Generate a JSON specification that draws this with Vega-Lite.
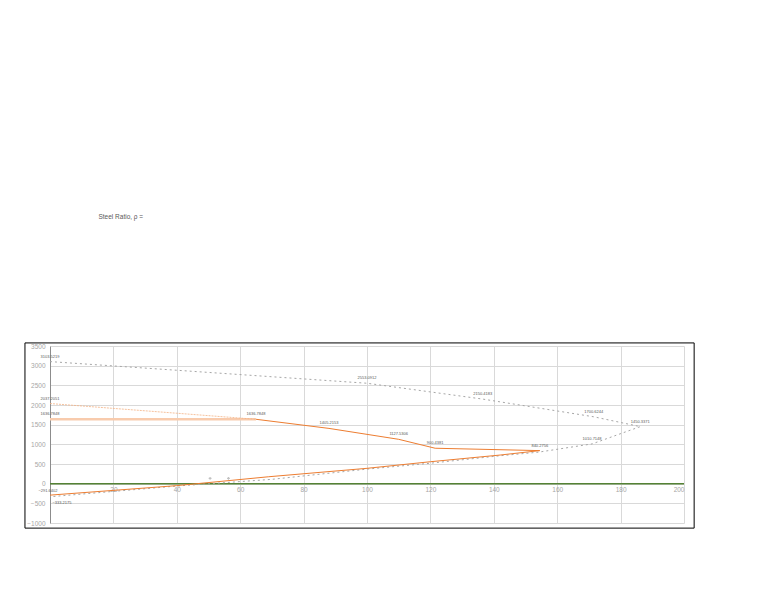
{
  "$schema": "https://vega.github.io/schema/vega-lite/v6.json",
  "autosize": "none",
  "width": 634,
  "height": 177,
  "padding": {"left": 50, "top": 346, "right": 84, "bottom": 71},
  "background": "white",
  "title": {"text": "Steel Ratio, ρ =", "orient": "top", "anchor": "start", "offset": 122, "dx": 74, "fontSize": 6.5, "font": "Liberation Sans", "fontWeight": "normal", "color": "#595959"},
  "config": {
    "view": {"stroke": null},
    "axis": {"gridColor": "#d9d9d9", "gridWidth": 1, "labelColor": "#a6a6a6", "labelFont": "Liberation Sans", "labelFontSize": 6.5, "ticks": false, "title": null}
  },
  "datasets": {
    "gray": [
      {"i": 1, "x": 0, "y": 3103.5219, "lab": true},
      {"i": 2, "x": 100, "y": 2553.0912, "lab": true},
      {"i": 3, "x": 136.5, "y": 2150.4183, "lab": true},
      {"i": 4, "x": 171.5, "y": 1700.6244, "lab": true},
      {"i": 5, "x": 186.2, "y": 1450.3371, "lab": true},
      {"i": 6, "x": 171, "y": 1010.7148, "lab": true},
      {"i": 7, "x": 154, "y": 800, "lab": false},
      {"i": 8, "x": 142, "y": 710, "lab": false},
      {"i": 9, "x": 120, "y": 520, "lab": false},
      {"i": 10, "x": 100, "y": 370, "lab": false},
      {"i": 11, "x": 70, "y": 110, "lab": false},
      {"i": 12, "x": 40, "y": -60, "lab": false},
      {"i": 13, "x": 0, "y": -333.2175, "lab": false}
    ],
    "grayEnd": [
      {"x": 0, "y": -333.2175}
    ],
    "orange": [
      {"i": 1, "x": 65, "y": 1636.7848, "lab": true},
      {"i": 2, "x": 88, "y": 1405.2153, "lab": true},
      {"i": 3, "x": 110, "y": 1127.5306, "lab": true},
      {"i": 4, "x": 121.5, "y": 900.4381, "lab": true},
      {"i": 5, "x": 154.5, "y": 840.2756, "lab": true},
      {"i": 6, "x": 142, "y": 728, "lab": false},
      {"i": 7, "x": 120, "y": 558, "lab": false},
      {"i": 8, "x": 100, "y": 390, "lab": false},
      {"i": 9, "x": 69, "y": 176, "lab": false},
      {"i": 10, "x": 40, "y": -50, "lab": false},
      {"i": 11, "x": 0, "y": -291.6402, "lab": false}
    ],
    "orangeEnd": [
      {"x": 0, "y": -291.6402}
    ],
    "flat": [
      {"i": 1, "x": 0, "y": 1636.7848, "lab": true},
      {"i": 2, "x": 65, "y": 1636.7848, "lab": false}
    ],
    "slope": [
      {"i": 1, "x": 0, "y": 2037.2051, "lab": true},
      {"i": 2, "x": 65, "y": 1636.7848, "lab": false}
    ],
    "zero": [
      {"x": 0, "y": 0},
      {"x": 200, "y": 0}
    ],
    "marks": [
      {"x": 50.5, "y": 135},
      {"x": 56.3, "y": 135}
    ],
    "frame": [
      {"x": -7.9, "x2": 203.2, "y": 3578, "y2": -1130}
    ]
  },
  "encoding": {
    "x": {"field": "x", "type": "quantitative", "scale": {"domain": [0, 200], "nice": false, "zero": false},
      "axis": {"values": [20, 40, 60, 80, 100, 120, 140, 160, 180, 200], "gridValues": [0, 20, 40, 60, 80, 100, 120, 140, 160, 180, 200], "domain": false, "offset": -39.3, "labelPadding": 3, "grid": true, "format": "d"}},
    "y": {"field": "y", "type": "quantitative", "scale": {"domain": [-1000, 3500], "nice": false},
      "axis": {"values": [-1000, -500, 0, 500, 1000, 1500, 2000, 2500, 3000, 3500], "format": "d", "domain": true, "domainColor": "#8c8c8c", "labelPadding": 5}}
  },
  "layer": [
    {"data": {"name": "zero"}, "mark": {"type": "line", "color": "#548235", "strokeWidth": 1.5}, "encoding": {}},
    {"data": {"name": "gray"}, "mark": {"type": "line", "color": "#a6a6a6", "strokeWidth": 1, "strokeDash": [2, 3]}, "encoding": {"order": {"field": "i"}}},
    {"data": {"name": "flat"}, "mark": {"type": "line", "color": "#f8cbad", "strokeWidth": 2.5}, "encoding": {"order": {"field": "i"}}},
    {"data": {"name": "slope"}, "mark": {"type": "line", "color": "#f4b183", "strokeWidth": 0.8, "strokeDash": [2, 1]}, "encoding": {"order": {"field": "i"}}},
    {"data": {"name": "orange"}, "mark": {"type": "line", "color": "#ed7d31", "strokeWidth": 1}, "encoding": {"order": {"field": "i"}}},
    {"data": {"name": "marks"}, "mark": {"type": "point", "shape": "cross", "color": "#a6a6a6", "size": 8, "filled": true}, "encoding": {}},
    {"data": {"name": "gray"}, "transform": [{"filter": "datum.lab"}], "mark": {"type": "text", "fontSize": 4, "font": "Liberation Sans", "color": "#595959", "dy": -5}, "encoding": {"text": {"field": "y", "type": "quantitative", "format": ".4f"}}},
    {"data": {"name": "grayEnd"}, "mark": {"type": "text", "fontSize": 4, "font": "Liberation Sans", "color": "#595959", "dy": 6, "dx": 12}, "encoding": {"text": {"field": "y", "type": "quantitative", "format": ".4f"}}},
    {"data": {"name": "orange"}, "transform": [{"filter": "datum.lab"}], "mark": {"type": "text", "fontSize": 4, "font": "Liberation Sans", "color": "#595959", "dy": -5}, "encoding": {"text": {"field": "y", "type": "quantitative", "format": ".4f"}}},
    {"data": {"name": "orangeEnd"}, "mark": {"type": "text", "fontSize": 4, "font": "Liberation Sans", "color": "#595959", "dy": -4, "dx": -2}, "encoding": {"text": {"field": "y", "type": "quantitative", "format": ".4f"}}},
    {"data": {"name": "flat"}, "transform": [{"filter": "datum.lab"}], "mark": {"type": "text", "fontSize": 4, "font": "Liberation Sans", "color": "#595959", "dy": -5}, "encoding": {"text": {"field": "y", "type": "quantitative", "format": ".4f"}}},
    {"data": {"name": "slope"}, "transform": [{"filter": "datum.lab"}], "mark": {"type": "text", "fontSize": 4, "font": "Liberation Sans", "color": "#595959", "dy": -5}, "encoding": {"text": {"field": "y", "type": "quantitative", "format": ".4f"}}},
    {"data": {"name": "frame"}, "mark": {"type": "rect", "fillOpacity": 0, "stroke": "black", "strokeWidth": 1, "strokeOpacity": 1, "clip": false}, "encoding": {"x": {"field": "x", "type": "quantitative"}, "x2": {"field": "x2"}, "y": {"field": "y", "type": "quantitative"}, "y2": {"field": "y2"}}}
  ]
}
